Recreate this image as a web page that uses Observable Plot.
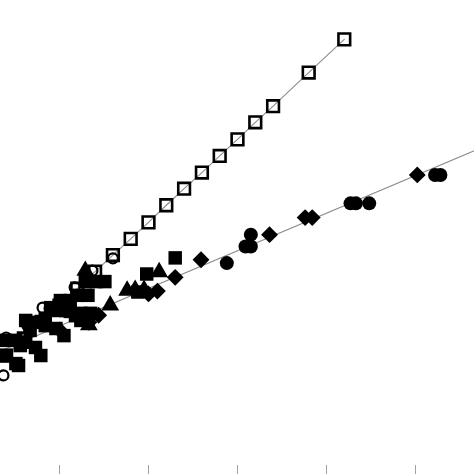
<!DOCTYPE html>
<html>
<head>
<meta charset="utf-8">
<script src="https://cdn.jsdelivr.net/npm/d3@7"></script>
<script src="https://cdn.jsdelivr.net/npm/@observablehq/plot@0.6"></script>
<style>
  html, body { margin: 0; padding: 0; background: #fff; }
  #chart svg { display: block; }
</style>
</head>
<body>
<div id="chart"></div>
<script>
// x tick values (labels are cropped off in the reference)
const xTicks = [10, 20, 30, 40, 50];

// Upper series: open squares joined by a line
const openSqX = [4, 6, 8, 10, 12, 14, 16, 18, 20, 22, 24, 26, 28, 30, 32, 34, 38, 42];
const openSqY = [25.1, 28.7, 32.2, 35.6, 39.2, 42.8, 46.3, 49.7, 53.2, 56.8, 60.3, 63.7, 67.2, 70.7, 74.3, 77.7, 84.8, 91.8];

// Lower fitted line
const fitX = [0, 60];
const fitY = [23.4, 71.0];

// Filled circles
const circX = [52.2, 52.8, 42.7, 43.3, 44.8, 31.5, 30.9, 31.5, 28.8, 9.0, 10.6, 6.5];
const circY = [63.2, 63.2, 57.2, 57.2, 57.2, 50.6, 48.1, 48.1, 44.6, 35.0, 36.4, 31.4];

// Filled diamonds
const diamX = [50.2, 37.6, 38.4, 33.6, 25.9, 23.0, 20.0, 21.0, 13.3, 10.0, 14.4];
const diamY = [63.2, 54.2, 54.2, 50.6, 45.3, 41.6, 38.1, 38.7, 32.1, 30.5, 33.6];

// Filled triangles
const triX = [21.2, 17.6, 18.5, 19.5, 15.7, 12.9, 13.3];
const triY = [42.7, 38.8, 39.0, 39.0, 35.7, 43.0, 31.5];

// Filled squares
const sqX = [23.0, 19.8, 18.8, 12.9, 14.1, 15.1, 12.0, 13.2, 9.0, 10.1, 11.2, 12.4, 9.6, 10.7, 11.8, 12.9,
             6.2, 7.3, 8.4, 9.6, 10.5, 3.9, 5.1, 6.2, 7.3, 7.9, 3.9, 5.1, 5.4,
             10.1, 11.2, 8.4, 12.4, 13.5, 6.7, 5.6];
const sqY = [45.7, 42.3, 38.5, 40.7, 40.7, 40.7, 37.8, 37.8, 35.2, 35.2, 34.4, 34.0, 34.6, 34.6, 33.5, 32.9,
             32.5, 32.1, 31.4, 30.8, 29.3, 28.3, 28.3, 27.9, 26.8, 25.1, 25.1, 23.4, 23.0,
             36.7, 36.7, 32.9, 32.5, 34.0, 30.4, 27.2];

// Open circles
const ocX = [16.0, 13.7, 11.7, 8.1, 3.7, 4.0];
const ocY = [45.6, 43.0, 39.5, 35.2, 20.9, 28.9];

const zip = (xs, ys) => xs.map((x, i) => ({x, y: ys[i]}));

const chart = Plot.plot({
  width: 474,
  height: 474,
  margin: 0,
  x: {domain: [3.371, 56.63], axis: null},
  y: {domain: [0, 100], axis: null},
  marks: [
    Plot.tickX(xTicks, {x: d => d, stroke: "#a0a0a0", strokeWidth: 1, insetTop: 465}),
    Plot.line(zip(fitX, fitY), {x: "x", y: "y", stroke: "#8c8c8c", strokeWidth: 1.1, clip: true}),
    Plot.line(zip(openSqX, openSqY), {x: "x", y: "y", stroke: "#8c8c8c", strokeWidth: 1.1, clip: true}),
    Plot.dot(zip(sqX, sqY), {x: "x", y: "y", symbol: "square", r: 7.6, fill: "#000", stroke: "none", clip: true}),
    Plot.dot(zip(triX, triY), {x: "x", y: "y", symbol: "triangle", r: 6.6, fill: "#000", stroke: "none", clip: true}),
    Plot.dot(zip(diamX, diamY), {x: "x", y: "y", symbol: "diamond2", r: 7.6, fill: "#000", stroke: "none", clip: true}),
    Plot.dot(zip(circX, circY), {x: "x", y: "y", symbol: "circle", r: 7, fill: "#000", stroke: "none", clip: true}),
    Plot.dot(zip(ocX, ocY), {x: "x", y: "y", symbol: "circle", r: 5, fill: "none", stroke: "#000", strokeWidth: 2.2, clip: true}),
    Plot.dot(zip(openSqX, openSqY), {x: "x", y: "y", symbol: "square", r: 6.6, fill: "none", stroke: "#000", strokeWidth: 2.6, clip: true})
  ]
});
document.getElementById("chart").appendChild(chart);
</script>
</body>
</html>
